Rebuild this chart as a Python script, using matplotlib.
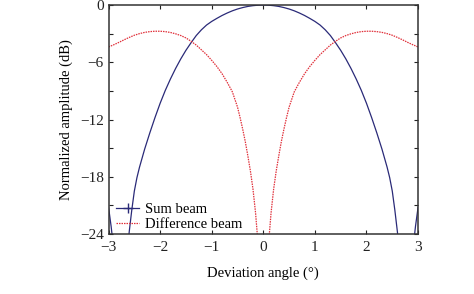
import numpy as np
import matplotlib.pyplot as plt
from matplotlib.lines import Line2D

plt.rcParams['font.family'] = ['Liberation Serif', 'DejaVu Serif']

# Sum beam (positive half, pattern is symmetric)
sum_x_half = [0.0, 0.1, 0.2, 0.3, 0.4, 0.5, 0.6, 0.7, 0.8, 0.9, 1.0, 1.1, 1.2, 1.3,
              1.4, 1.5, 1.6, 1.7, 1.8, 1.9, 2.0, 2.1, 2.2, 2.3, 2.4, 2.45, 2.5,
              2.55, 2.6, 2.65, 2.7, 2.75, 2.8, 2.85, 2.9, 2.95, 3.0]
sum_db_half = [0.0, -0.02, -0.07, -0.15, -0.27, -0.42, -0.61, -0.84, -1.1, -1.4, -1.72,
               -2.1, -2.6, -3.2, -3.95, -4.75, -5.65, -6.65, -7.75, -8.95, -10.3, -11.8,
               -13.4, -15.1, -17.0, -18.1, -19.5, -21.5, -23.8, -27.0, -32.0, -45.0,
               -34.0, -29.0, -25.6, -23.2, -21.2]

# Difference beam (positive half)
diff_x_half = [0.0, 0.03, 0.06, 0.09, 0.12, 0.15, 0.2, 0.25, 0.3, 0.35, 0.4, 0.45, 0.5,
               0.55, 0.6, 0.7, 0.8, 0.9, 1.0, 1.1, 1.2, 1.3, 1.4, 1.5, 1.6, 1.7, 1.8,
               1.9, 2.0, 2.1, 2.2, 2.3, 2.4, 2.5, 2.6, 2.7, 2.8, 2.9, 3.0]
diff_db_half = [-50.0, -35.8, -29.8, -26.3, -23.8, -21.8, -19.3, -17.4, -15.8, -14.3,
                -13.0, -11.8, -10.7, -9.9, -9.1, -8.1, -7.2, -6.45, -5.8, -5.2, -4.7,
                -4.2, -3.8, -3.45, -3.2, -3.02, -2.88, -2.79, -2.75, -2.75, -2.79,
                -2.87, -3.0, -3.17, -3.4, -3.65, -3.92, -4.17, -4.4]

x_ticks = [-3, -2, -1, 0, 1, 2, 3]
y_ticks = [-24, -18, -12, -6, 0]


def mirror(xs, ys):
    xs = np.asarray(xs)
    ys = np.asarray(ys)
    return np.concatenate([-xs[:0:-1], xs]), np.concatenate([ys[:0:-1], ys])


sx, sy = mirror(sum_x_half, sum_db_half)
dx, dy = mirror(diff_x_half, diff_db_half)

fig = plt.figure(figsize=(4.74, 2.94), dpi=100)
ax = fig.add_axes([0.229, 0.204, 0.653, 0.779])

sum_color = "#2a2a78"
diff_color = "#e0303a"
diff_style = (0, (1.2, 0.8))
ax.plot(sx, sy, color=sum_color, linewidth=0.9)
ax.plot(dx, dy, color=diff_color, linewidth=0.9, linestyle=diff_style)

ax.set_xlim(-3, 3)
ax.set_ylim(-24, 0)
ax.set_xticks(x_ticks)
ax.set_yticks(y_ticks)
ax.set_yticks(np.arange(-21, 0, 6), minor=True)
ax.tick_params(which='both', direction='in', top=True, right=True,
               length=3, width=0.8, labelsize=11, colors='#222222')
ax.tick_params(axis='x', pad=5)
for s in ax.spines.values():
    s.set_linewidth(1.1)
    s.set_color('#333333')

ax.set_xlabel("Deviation angle (°)", fontsize=10.5, labelpad=9)
ax.set_ylabel("Normalized amplitude (dB)", fontsize=10.5, labelpad=5)

handles = [
    Line2D([], [], color=sum_color, linewidth=0.9, marker='+', markersize=7),
    Line2D([], [], color=diff_color, linewidth=0.9, linestyle=diff_style),
]
ax.legend(handles, ["Sum beam", "Difference beam"], loc='lower left',
          frameon=False, fontsize=10.5, handlelength=1.6, handletextpad=0.35,
          labelspacing=0.12, borderpad=0.2, borderaxespad=0.0,
          bbox_to_anchor=(0.015, 0.0))

fig.savefig("out.png", dpi=100)
